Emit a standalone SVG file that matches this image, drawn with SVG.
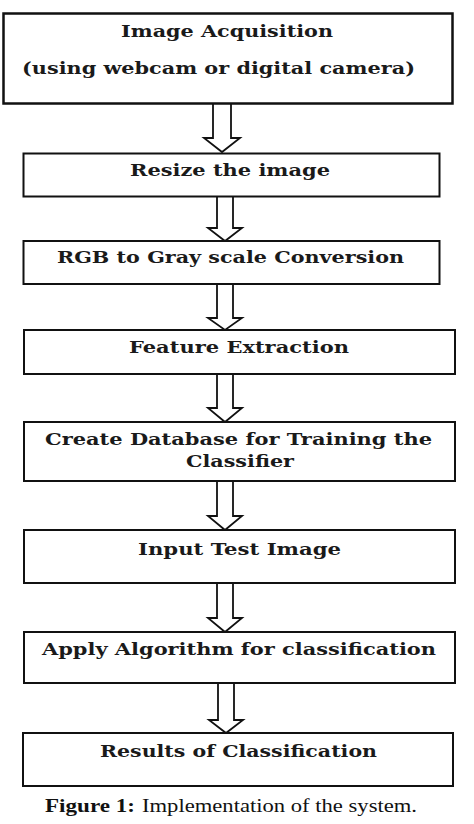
<svg xmlns="http://www.w3.org/2000/svg" width="474" height="824" viewBox="0 0 474 824">
<style>
.box{fill:#fff;stroke:#111;stroke-width:2}
.lbl{font-family:"DejaVu Serif","Liberation Serif",serif;font-weight:bold;font-size:16.5px;fill:#1a1a1a}
.arr{fill:#fff;stroke:#111;stroke-width:1.8;stroke-linejoin:miter}
.cap{font-family:"Liberation Serif","Times New Roman",serif;font-size:19px;fill:#111}
</style>
<rect width="474" height="824" fill="#fff"/>
<g id="connectors">
<path class="arr" d="M213,104 V138 H204 L222,152 L240,138 H231 V104"/>
<path class="arr" d="M217,197 V228 H208 L225,241 L242,228 H233 V197"/>
<path class="arr" d="M217,284 V318 H208 L225,330 L242,318 H233 V284"/>
<path class="arr" d="M217,374 V408 H208 L225,422 L242,408 H233 V374"/>
<path class="arr" d="M217,481 V516 H208 L225,530 L242,516 H233 V481"/>
<path class="arr" d="M217,583 V618 H208 L225,632 L242,618 H233 V583"/>
<path class="arr" d="M218,683 V720 H209 L226,733 L243,720 H234 V683"/>
</g>
<g id="n1">
<rect class="box" x="3.5" y="13.5" width="449" height="90" style="stroke-width:2.5"/>
<text class="lbl" x="121" y="37" textLength="212" lengthAdjust="spacingAndGlyphs">Image Acquisition</text>
<text class="lbl" x="22" y="74" textLength="393" lengthAdjust="spacingAndGlyphs">(using webcam or digital camera)</text>
</g>
<g id="n2">
<rect class="box" x="23.5" y="153.5" width="416" height="43"/>
<text class="lbl" x="130" y="175.5" textLength="200" lengthAdjust="spacingAndGlyphs">Resize the image</text>
</g>
<g id="n3">
<rect class="box" x="23.5" y="241" width="416" height="43"/>
<text class="lbl" x="57" y="263" textLength="347" lengthAdjust="spacingAndGlyphs">RGB to Gray scale Conversion</text>
</g>
<g id="n4">
<rect class="box" x="24" y="330" width="431" height="44"/>
<text class="lbl" x="129" y="353" textLength="220" lengthAdjust="spacingAndGlyphs">Feature Extraction</text>
</g>
<g id="n5">
<rect class="box" x="24" y="422" width="431" height="59"/>
<text class="lbl" x="45" y="445" textLength="387" lengthAdjust="spacingAndGlyphs">Create Database for Training the</text>
<text class="lbl" x="186" y="467" textLength="108" lengthAdjust="spacingAndGlyphs">Classifier</text>
</g>
<g id="n6">
<rect class="box" x="24" y="530" width="431" height="53"/>
<text class="lbl" x="138" y="555" textLength="203" lengthAdjust="spacingAndGlyphs">Input Test Image</text>
</g>
<g id="n7">
<rect class="box" x="24" y="632" width="431" height="51"/>
<text class="lbl" x="42" y="655" textLength="394" lengthAdjust="spacingAndGlyphs">Apply Algorithm for classification</text>
</g>
<g id="n8">
<rect class="box" x="23" y="733" width="430" height="53"/>
<text class="lbl" x="100" y="757" textLength="277" lengthAdjust="spacingAndGlyphs">Results of Classification</text>
</g>
<g id="caption">
<text class="cap" x="45" y="812" font-weight="bold" textLength="90" lengthAdjust="spacingAndGlyphs">Figure 1:</text>
<text class="cap" x="142" y="812" textLength="275" lengthAdjust="spacingAndGlyphs">Implementation of the system.</text>
</g>
</svg>
